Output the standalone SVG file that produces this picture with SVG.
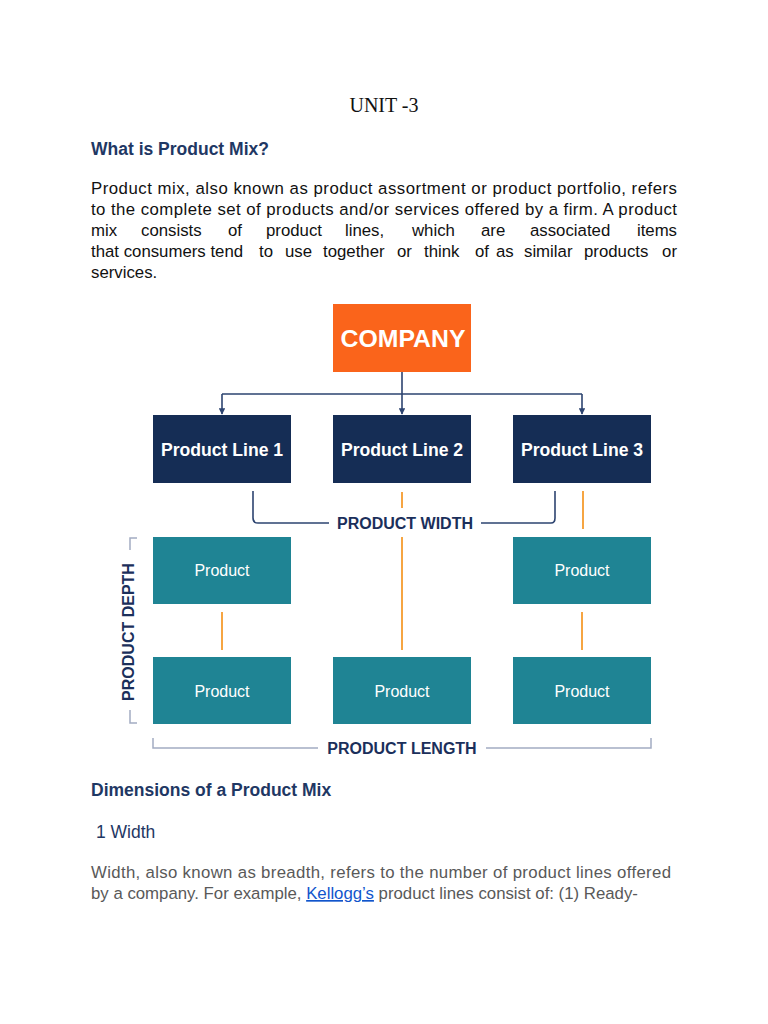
<svg xmlns="http://www.w3.org/2000/svg" width="768" height="1024" viewBox="0 0 768 1024">
<defs>
<style>
.body{font-family:"Liberation Sans",Arial,sans-serif;font-size:16.8px;fill:#111}
.head{font-family:"Liberation Sans",Arial,sans-serif;font-size:17.5px;font-weight:bold;fill:#1F3864}
.gray{font-family:"Liberation Sans",Arial,sans-serif;font-size:16.8px;fill:#595959}
.company{fill:#FA641B}
.line{fill:#152D55}
.prod{fill:#1F8494}
.wt{font-family:"Liberation Sans",Arial,sans-serif;fill:#fff;text-anchor:middle}
.lbl{font-family:"Liberation Sans",Arial,sans-serif;font-size:16px;font-weight:bold;fill:#1B2F5B;text-anchor:middle}
.conn{fill:none;stroke:#2D4470;stroke-width:1.6}
.org{stroke:#F6A542;stroke-width:2}
.brk{fill:none;stroke:#A3ACC2;stroke-width:1.5}
</style>
<marker id="arr" viewBox="0 0 10 10" refX="9" refY="5" markerWidth="4" markerHeight="4" orient="auto"><path d="M0,0 L10,5 L0,10 z" fill="#2D4470"/></marker>
</defs>
<rect width="768" height="1024" fill="#fff"/>
<text x="384" y="112" text-anchor="middle" font-family="Liberation Serif,Times New Roman,serif" font-size="20" fill="#111">UNIT -3</text>
<text class="head" x="91" y="155">What is Product Mix?</text>
<text class="body" x="91" y="194" textLength="586" lengthAdjust="spacing">Product mix, also known as product assortment or product portfolio, refers</text>
<text class="body" x="91" y="215" textLength="586" lengthAdjust="spacing">to the complete set of products and/or services offered by a firm. A product</text>
<text class="body" y="236"><tspan x="91">mix</tspan><tspan x="141">consists</tspan><tspan x="228">of</tspan><tspan x="266">product</tspan><tspan x="345">lines,</tspan><tspan x="412">which</tspan><tspan x="481">are</tspan><tspan x="530">associated</tspan><tspan x="677" text-anchor="end">items</tspan></text>
<text class="body" y="257"><tspan x="91">that consumers tend</tspan><tspan x="259">to</tspan><tspan x="285">use</tspan><tspan x="323">together</tspan><tspan x="397">or</tspan><tspan x="424">think</tspan><tspan x="475">of</tspan><tspan x="496">as</tspan><tspan x="524">similar</tspan><tspan x="584">products</tspan><tspan x="677" text-anchor="end">or</tspan></text>
<text class="body" x="91" y="278">services.</text>

<g id="connectors">
<path class="conn" d="M402,372 V394 M222,394 H582"/>
<path class="conn" d="M222,394 V414" marker-end="url(#arr)"/>
<path class="conn" d="M402,394 V414" marker-end="url(#arr)"/>
<path class="conn" d="M582,394 V414" marker-end="url(#arr)"/>
<line class="org" x1="402" y1="492" x2="402" y2="508"/>
<line class="org" x1="402" y1="537" x2="402" y2="650"/>
<line class="org" x1="583" y1="491" x2="583" y2="529"/>
<line class="org" x1="222" y1="612" x2="222" y2="650"/>
<line class="org" x1="582" y1="612" x2="582" y2="650"/>
</g>

<g id="company"><rect class="company" x="333" y="304" width="138" height="68"/><text class="wt" x="403" y="347" font-size="24.8" font-weight="bold">COMPANY</text></g>
<g id="pl1"><rect class="line" x="153" y="415" width="138" height="68"/><text class="wt" x="222" y="456" font-size="17.6" font-weight="bold">Product Line 1</text></g>
<g id="pl2"><rect class="line" x="333" y="415" width="138" height="68"/><text class="wt" x="402" y="456" font-size="17.6" font-weight="bold">Product Line 2</text></g>
<g id="pl3"><rect class="line" x="513" y="415" width="138" height="68"/><text class="wt" x="582" y="456" font-size="17.6" font-weight="bold">Product Line 3</text></g>

<g id="p11"><rect class="prod" x="153" y="537" width="138" height="67"/><text class="wt" x="222" y="576" font-size="16">Product</text></g>
<g id="p31"><rect class="prod" x="513" y="537" width="138" height="67"/><text class="wt" x="582" y="576" font-size="16">Product</text></g>
<g id="p12"><rect class="prod" x="153" y="657" width="138" height="67"/><text class="wt" x="222" y="697" font-size="16">Product</text></g>
<g id="p22"><rect class="prod" x="333" y="657" width="138" height="67"/><text class="wt" x="402" y="697" font-size="16">Product</text></g>
<g id="p32"><rect class="prod" x="513" y="657" width="138" height="67"/><text class="wt" x="582" y="697" font-size="16">Product</text></g>

<g id="product-width">
<path class="conn" d="M253,491 V518 Q253,523 258,523 H329 M481,523 H551 Q555,523 555,518 V491"/>
<text class="lbl" x="405" y="529">PRODUCT WIDTH</text>
</g>
<g id="product-depth">
<path class="brk" d="M137,538 H130 V550 M130,710 V723 H137"/>
<text class="lbl" transform="translate(134,632) rotate(-90)">PRODUCT DEPTH</text>
</g>
<g id="product-length">
<path class="brk" d="M153,738 V748 H318 M486,748 H651 V738"/>
<text class="lbl" x="402" y="754">PRODUCT LENGTH</text>
</g>

<text class="head" x="91" y="796">Dimensions of a Product Mix</text>
<text x="96" y="838" font-family="Liberation Sans,Arial,sans-serif" font-size="17.5" fill="#1F3864">1 Width</text>
<text class="gray" x="91" y="878" textLength="580" lengthAdjust="spacing">Width, also known as breadth, refers to the number of product lines offered</text>
<text class="gray" x="91" y="899">by a company. For example, <tspan fill="#1155CC" text-decoration="underline">Kellogg’s</tspan> product lines consist of: (1) Ready-</text>
</svg>
